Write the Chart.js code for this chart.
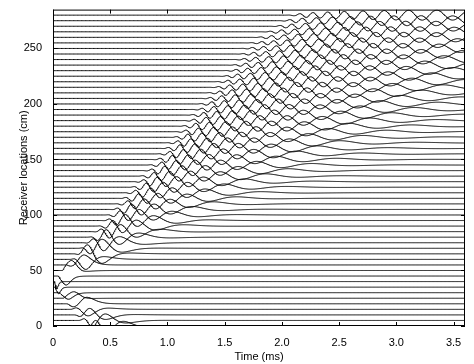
<!DOCTYPE html>
<html>
<head>
<meta charset="utf-8">
<script src="https://cdn.jsdelivr.net/npm/chart.js@4.4.1/dist/chart.umd.min.js"></script>
<style>
  html, body { margin: 0; padding: 0; background: #fff; }
  #wrap { width: 474px; height: 364px; }
</style>
</head>
<body>
<div id="wrap"><canvas id="chart" width="474" height="364"></canvas></div>
<script>
// receiver positions (cm), one wiggle trace per receiver
const receiverCm = [0, 5, 10, 15, 20, 25, 30, 35, 40, 45, 50, 55, 60, 65, 70, 75, 80, 85, 90, 95,
    100, 105, 110, 115, 120, 125, 130, 135, 140, 145, 150, 155, 160, 165, 170, 175, 180, 185, 190, 195,
    200, 205, 210, 215, 220, 225, 230, 235, 240, 245, 250, 255, 260, 265, 270, 275, 280];
// first visible motion on each trace (ms)
const arrivalMs = [0.22, 0.18, 0.15, 0.12, 0.09, 0.06, 0.03, 0.0, 0.0, 0.02, 0.05, 0.09, 0.13, 0.17, 0.21, 0.25, 0.29, 0.33, 0.37, 0.41,
    0.44, 0.48, 0.52, 0.56, 0.60, 0.64, 0.68, 0.72, 0.76, 0.80, 0.84, 0.88, 0.92, 0.96, 1.00, 1.04, 1.07, 1.11, 1.14, 1.18,
    1.22, 1.26, 1.30, 1.34, 1.38, 1.42, 1.46, 1.50, 1.54, 1.57, 1.60, 1.66, 1.72, 1.80, 1.88, 1.95, 2.02];
// relative gain of each trace (near-source humps are taller)
const traceGain = [1.3, 1.3, 1.3, 1.3, 1.3, 1.3, 1.3, 1.3, 1.4, 1.8, 2.0, 2.0, 2.0, 1.9, 1.8, 1.6, 1.5, 1.4, 1.3, 1.2,
    1.1, 1.1, 1, 1, 1, 1, 1, 1, 1, 1, 1, 1, 1, 1, 1, 1, 1, 1, 1, 1,
    1, 1, 1, 1, 1, 1, 1, 1, 1, 1, 1, 1, 1, 1, 1, 1, 1];
const timeTicksMs = [0, 0.5, 1, 1.5, 2, 2.5, 3, 3.5];
const locTicksCm = [0, 50, 100, 150, 200, 250];

// source position and plate (flexural wave) parameters
const sourceCm = 38;
const sourceWidth = 5;    // cm
const bendCoef = 55;      // cm^2/ms
const velCenter = 92;     // cm/ms, middle of the recorded band
const velWidth = 44;      // cm/ms
const lossCoef = 0.0036;  // 1/cm, damping of the fast (high frequency) part
const traceAmpCm = 4.5;
const tEnd = 3.6;
const dt = 0.005;

function displacement(xRel, t) {
    if (t <= 0) return 0;
    const s2 = sourceWidth * sourceWidth;
    const b = 4 * bendCoef * t;
    const D = s2 * s2 + b * b;
    const dist = Math.abs(xRel);
    const v = dist / t;
    const z = (v - velCenter) / velWidth;
    const q = v / 100;
    const env = Math.exp(-z * z * z * z - lossCoef * dist * q * q * q * q) * sourceWidth / Math.pow(D, 0.25);
    const ph = b * xRel * xRel / D - 0.5 * Math.atan2(b, s2);
    return -env * Math.cos(ph);
}

function mute(t, t0) {
    if (t <= t0) return 0;
    const s = Math.min(1, (t - t0) / 0.2);
    return s * s * (3 - 2 * s);
}

const datasets = receiverCm.map((loc, i) => {
    const xRel = loc - sourceCm;
    const u = [];
    let peak = 0;
    for (let n = 0; n * dt <= tEnd + 1e-9; n++) {
        const t = n * dt;
        const v = displacement(xRel, t) * mute(t, arrivalMs[i]);
        u.push(v);
        peak = Math.max(peak, Math.abs(v));
    }
    const g = traceGain[i] * traceAmpCm / (peak || 1);
    return {
        data: u.map((v, n) => ({ x: n * dt, y: loc + g * v })),
        borderColor: '#000',
        borderWidth: 1,
        pointRadius: 0,
        tension: 0,
        clip: 0
    };
});

const fontSpec = { family: 'Liberation Sans, Arial, sans-serif', size: 11 };

// MATLAB style box with inward ticks
const framePlugin = {
    id: 'frame',
    afterDraw(chart) {
        const { ctx, chartArea: a, scales } = chart;
        ctx.save();
        ctx.strokeStyle = '#000';
        ctx.lineWidth = 1;
        ctx.strokeRect(a.left + 0.5, a.top + 0.5, a.right - a.left - 1, a.bottom - a.top - 1);
        ctx.beginPath();
        timeTicksMs.forEach(v => {
            const px = Math.round(scales.x.getPixelForValue(v)) + 0.5;
            ctx.moveTo(px, a.bottom); ctx.lineTo(px, a.bottom - 4);
            ctx.moveTo(px, a.top); ctx.lineTo(px, a.top + 4);
        });
        locTicksCm.forEach(v => {
            const py = Math.round(scales.y.getPixelForValue(v)) + 0.5;
            ctx.moveTo(a.left, py); ctx.lineTo(a.left + 4, py);
            ctx.moveTo(a.right, py); ctx.lineTo(a.right - 4, py);
        });
        ctx.stroke();
        ctx.restore();
    }
};

new Chart(document.getElementById('chart'), {
    type: 'line',
    data: { datasets },
    options: {
        responsive: false,
        animation: false,
        parsing: false,
        normalized: true,
        layout: { padding: { left: 0, top: 7, right: 9, bottom: 0 } },
        plugins: { legend: { display: false }, tooltip: { enabled: false } },
        scales: {
            x: {
                type: 'linear',
                min: 0,
                max: tEnd,
                afterBuildTicks: s => { s.ticks = timeTicksMs.map(v => ({ value: v })); },
                afterFit: s => { s.height = 38; },
                ticks: { font: fontSpec, color: '#000', padding: 2, maxRotation: 0 },
                grid: { display: false },
                border: { display: false },
                title: { display: true, text: 'Time (ms)', font: fontSpec, color: '#000', padding: { top: 9, bottom: 0 } }
            },
            y: {
                type: 'linear',
                min: 0,
                max: 285,
                afterBuildTicks: s => { s.ticks = locTicksCm.map(v => ({ value: v })); },
                afterFit: s => { s.width = 53; },
                ticks: { font: fontSpec, color: '#000', padding: 3 },
                grid: { display: false },
                border: { display: false },
                title: { display: true, text: 'Receiver locations (cm)', font: fontSpec, color: '#000', padding: { top: 17, bottom: 0 } }
            }
        }
    },
    plugins: [framePlugin]
});
</script>
</body>
</html>
